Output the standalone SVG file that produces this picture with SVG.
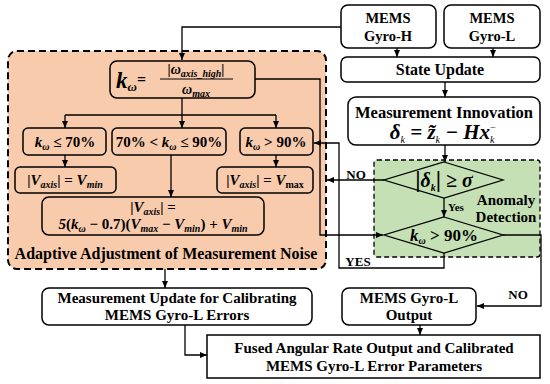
<svg xmlns="http://www.w3.org/2000/svg" width="550" height="384" viewBox="0 0 550 384">
<defs>
<marker id="ah" markerWidth="8" markerHeight="8" refX="7" refY="4" orient="auto" markerUnits="userSpaceOnUse">
<path d="M0,1 L7,4 L0,7 Z" fill="#000"/>
</marker>
<style>
text{font-family:"Liberation Serif","Times New Roman",serif;font-weight:bold;fill:#000}
.box{fill:#fff;stroke:#000;stroke-width:1.5}
.obox{fill:#f8cbad;stroke:#000;stroke-width:1.5}
.t14{font-size:14.5px}
.t15{font-size:15px}
.m{font-size:15px}
.i{font-style:italic}
.s{font-size:10px}
.c{stroke:#000;stroke-width:1.3;fill:none}
.ca{stroke:#000;stroke-width:1.3;fill:none;marker-end:url(#ah)}
</style>
</defs>
<rect width="550" height="384" fill="#fff"/>

<g id="adaptive-group">
<rect x="8" y="51" width="318" height="218" rx="9" fill="#f8cbad" stroke="#000" stroke-width="2" stroke-dasharray="7,4"/>
<text x="166" y="259" text-anchor="middle" font-size="16">Adaptive Adjustment of Measurement Noise</text>
</g>

<g id="anomaly-group">
<rect x="374" y="160" width="166" height="97" rx="3" fill="#c5e0b4" stroke="#000" stroke-width="1.3" stroke-dasharray="5,3"/>
<text x="506" y="205" class="t15" text-anchor="middle">Anomaly</text>
<text x="506" y="222" class="t15" text-anchor="middle">Detection</text>
</g>

<g id="gyro-h">
<rect x="341" y="5" width="95" height="43" rx="7" class="box"/>
<text x="388" y="23" class="t14" text-anchor="middle">MEMS</text>
<text x="388" y="41" class="t14" text-anchor="middle">Gyro-H</text>
</g>
<g id="gyro-l">
<rect x="444" y="5" width="96" height="43" rx="7" class="box"/>
<text x="492" y="23" class="t14" text-anchor="middle">MEMS</text>
<text x="492" y="41" class="t14" text-anchor="middle">Gyro-L</text>
</g>
<g id="state-update">
<rect x="341" y="57" width="199" height="25" rx="6" class="box"/>
<text x="440" y="75" text-anchor="middle" font-size="16">State Update</text>
</g>
<g id="innovation">
<rect x="348" y="97" width="192" height="48" rx="8" class="box"/>
<text x="444" y="118" text-anchor="middle" font-size="16.5">Measurement Innovation</text>
<text x="443" y="139" text-anchor="middle" font-size="21" font-style="italic">δ<tspan font-size="10" font-weight="normal" dy="4">k</tspan><tspan dy="-4"> = z̃</tspan><tspan font-size="10" font-weight="normal" dy="4">k</tspan><tspan dy="-4"> − Hx</tspan><tspan font-size="10" font-weight="normal" dy="4">k</tspan><tspan font-size="10" font-weight="normal" dx="-5" dy="-12">−</tspan></text>
</g>
<g id="check-innovation">
<polygon points="444,162 503,180 444,198 384,180" fill="none" stroke="#000" stroke-width="1.3"/>
<text x="444" y="187" text-anchor="middle" font-size="20" font-weight="normal" font-style="italic"><tspan font-style="normal" font-size="24">|</tspan>δ<tspan font-size="10" dy="4">k</tspan><tspan font-style="normal" font-size="24" dy="-4">|</tspan> ≥ σ</text>
</g>
<g id="check-rate">
<polygon points="444,217 503,235 444,253 384,235" fill="none" stroke="#000" stroke-width="1.3"/>
<text x="444" y="241" text-anchor="middle" font-size="17"><tspan font-style="italic">k</tspan><tspan class="s i" dy="3">ω</tspan><tspan dy="-3"> &gt; 90%</tspan></text>
</g>

<g id="k-omega">
<rect x="110" y="61" width="145" height="37" rx="7" class="obox"/>
<text x="116" y="88" font-size="23" font-style="italic">k<tspan font-size="13" dy="3">ω</tspan><tspan font-style="normal" font-size="16" dy="-6">=</tspan></text>
<text x="196" y="74" text-anchor="middle" font-size="14" font-style="italic"><tspan font-style="normal">|</tspan>ω<tspan font-size="10" dy="3">axis_high</tspan><tspan font-style="normal" dy="-3">|</tspan></text>
<line x1="160" y1="79" x2="233" y2="79" stroke="#000" stroke-width="1"/>
<text x="196" y="94" text-anchor="middle" font-size="14" font-style="italic">ω<tspan font-size="10" dy="3">max</tspan></text>
</g>
<g id="case-low">
<rect x="23" y="128" width="83" height="27" rx="5" class="obox"/>
<text x="65" y="147" text-anchor="middle" class="m"><tspan class="i">k</tspan><tspan class="s i" dy="3">ω</tspan><tspan dy="-3"> ≤ 70%</tspan></text>
</g>
<g id="case-mid">
<rect x="112" y="128" width="114" height="27" rx="5" class="obox"/>
<text x="169" y="147" text-anchor="middle" class="m">70% &lt; <tspan class="i">k</tspan><tspan class="s i" dy="3">ω</tspan><tspan dy="-3"> ≤ 90%</tspan></text>
</g>
<g id="case-high">
<rect x="240" y="128" width="73" height="27" rx="5" class="obox"/>
<text x="276" y="147" text-anchor="middle" class="m"><tspan class="i">k</tspan><tspan class="s i" dy="3">ω</tspan><tspan dy="-3"> &gt; 90%</tspan></text>
</g>
<g id="v-min">
<rect x="15" y="167" width="101" height="26" rx="5" class="obox"/>
<text x="65" y="185" text-anchor="middle" class="m">|<tspan class="i">V</tspan><tspan class="s i" dy="3">axis</tspan><tspan dy="-3">| = </tspan><tspan class="i">V</tspan><tspan class="s i" dy="3">min</tspan></text>
</g>
<g id="v-max">
<rect x="217" y="167" width="96" height="26" rx="5" class="obox"/>
<text x="265" y="185" text-anchor="middle" class="m">|<tspan class="i">V</tspan><tspan class="s i" dy="3">axis</tspan><tspan dy="-3">| = </tspan><tspan class="i">V</tspan><tspan class="s" dy="3">max</tspan></text>
</g>
<g id="v-interp">
<rect x="42" y="197" width="222" height="38" rx="7" class="obox"/>
<text x="153" y="212" text-anchor="middle" class="m">|<tspan class="i">V</tspan><tspan class="s i" dy="3">axis</tspan><tspan dy="-3">| =</tspan></text>
<text x="153" y="229" text-anchor="middle" class="m"><tspan class="i">5</tspan>(<tspan class="i">k</tspan><tspan class="s i" dy="3">ω</tspan><tspan dy="-3"> − 0.7)(</tspan><tspan class="i">V</tspan><tspan class="s i" dy="3">max</tspan><tspan dy="-3"> − </tspan><tspan class="i">V</tspan><tspan class="s i" dy="3">min</tspan><tspan dy="-3">) + </tspan><tspan class="i">V</tspan><tspan class="s i" dy="3">min</tspan></text>
</g>

<g id="meas-update">
<rect x="42" y="288" width="270" height="37" rx="7" class="box"/>
<text x="177" y="303" text-anchor="middle" font-size="15">Measurement Update for Calibrating</text>
<text x="177" y="320" text-anchor="middle" font-size="15">MEMS Gyro-L Errors</text>
</g>
<g id="gyro-l-output">
<rect x="342" y="288" width="134" height="37" rx="7" class="box"/>
<text x="409" y="303" text-anchor="middle" font-size="15">MEMS Gyro-L</text>
<text x="409" y="320" text-anchor="middle" font-size="15">Output</text>
</g>
<g id="fused-output">
<rect x="207" y="335" width="333" height="43" class="box"/>
<text x="374" y="353" text-anchor="middle" font-size="15">Fused Angular Rate Output and Calibrated</text>
<text x="374" y="371" text-anchor="middle" font-size="15">MEMS Gyro-L Error Parameters</text>
</g>

<g id="connectors">
<path class="ca" d="M341,27 H182 V60"/>
<path class="ca" d="M397,48 V57"/>
<path class="ca" d="M493,48 V57"/>
<path class="ca" d="M445,82 V97"/>
<path class="ca" d="M445,145 V162"/>
<path class="ca" d="M444,198 V217"/>
<path class="c" d="M65,115 H276"/>
<path class="ca" d="M182,98 V128"/>
<path class="ca" d="M65,115 V128"/>
<path class="ca" d="M276,115 V128"/>
<path class="ca" d="M65,155 V167"/>
<path class="ca" d="M276,155 V167"/>
<path class="ca" d="M171,155 V197"/>
<path class="ca" d="M255,79 H320 V235 H383"/>
<path class="ca" d="M384,180 H327"/>
<path class="ca" d="M444,253 V268 H339 V143 H314"/>
<path class="ca" d="M503,235 H541 V306 H477"/>
<path class="ca" d="M165,269 V288"/>
<path class="ca" d="M185,325 V355 H207"/>
<path class="ca" d="M420,325 V335"/>
<text x="356" y="179" text-anchor="middle" font-size="13">NO</text>
<text x="358" y="266" text-anchor="middle" font-size="13">YES</text>
<text x="518" y="299" text-anchor="middle" font-size="13">NO</text>
<text x="448" y="211" font-size="11">Yes</text>
</g>
</svg>
